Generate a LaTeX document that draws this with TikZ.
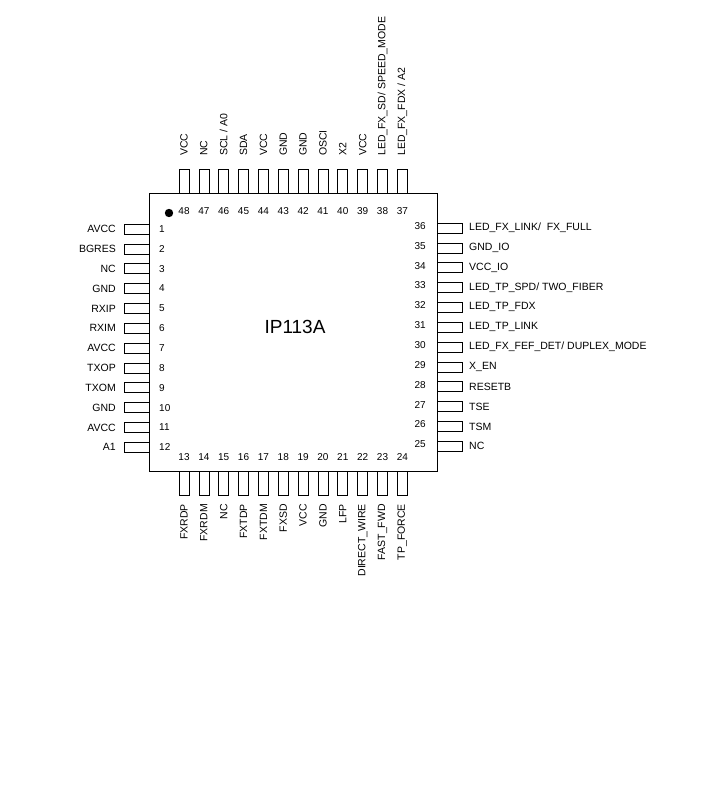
\documentclass[tikz,border=0pt]{standalone}
\usepackage{fontspec}
\setmainfont{Liberation Sans}
\begin{document}
\begin{tikzpicture}[x=1pt,y=-1pt,
  pin/.style={draw=black,line width=0.7pt,fill=white},
  lab/.style={font=\fontsize{10.5}{11}\selectfont,inner sep=0pt},
  num/.style={font=\fontsize{10}{11}\selectfont,inner sep=0pt}]
\useasboundingbox[fill=white] (0,0) rectangle (722,803);
\def\st{19.85}
\node[draw=black,line width=0.8pt,fill=white,minimum width=288pt,minimum height=278pt,anchor=north west,inner sep=0pt] (chip) at (149,193) {};
% top pins
\foreach \n/\t [count=\i from 0] in {48/VCC,47/NC,46/{SCL / A0},45/SDA,44/VCC,43/GND,42/GND,41/OSCI,40/X2,39/VCC,38/{LED\_FX\_SD/ SPEED\_MODE},37/{LED\_FX\_FDX / A2}}{
  \pgfmathsetmacro\xx{184+\i*\st}
  \draw[pin] (\xx-5,169) rectangle (\xx+5,193);
  \node[num] (tn\n) at (\xx,211) {\n};
  \node[lab,rotate=90,anchor=west] (tl\n) at (\xx,156) {\t};
}
% bottom pins
\foreach \n/\t [count=\i from 0] in {13/FXRDP,14/FXRDM,15/NC,16/FXTDP,17/FXTDM,18/FXSD,19/VCC,20/GND,21/LFP,22/DIRECT\_WIRE,23/FAST\_FWD,24/TP\_FORCE}{
  \pgfmathsetmacro\xx{184+\i*\st}
  \draw[pin] (\xx-5,471) rectangle (\xx+5,495);
  \node[num] (bn\n) at (\xx,457) {\n};
  \node[lab,rotate=90,anchor=east] (bl\n) at (\xx,504) {\t};
}
% left pins
\foreach \n/\t [count=\i from 0] in {1/AVCC,2/BGRES,3/NC,4/GND,5/RXIP,6/RXIM,7/AVCC,8/TXOP,9/TXOM,10/GND,11/AVCC,12/A1}{
  \pgfmathsetmacro\yy{229+\i*\st}
  \draw[pin] (124,\yy-5) rectangle (149,\yy+5);
  \node[num,anchor=west] (ln\n) at (159,\yy) {\n};
  \node[lab,anchor=east] (ll\n) at (116,\yy) {\t};
}
% right pins
\foreach \n/\t [count=\i from 0] in {36/{LED\_FX\_LINK/ \ FX\_FULL},35/GND\_IO,34/VCC\_IO,33/{LED\_TP\_SPD/ TWO\_FIBER},32/LED\_TP\_FDX,31/LED\_TP\_LINK,30/{LED\_FX\_FEF\_DET/ DUPLEX\_MODE},29/X\_EN,28/RESETB,27/TSE,26/TSM,25/NC}{
  \pgfmathsetmacro\yy{228+\i*\st}
  \draw[pin] (437,\yy-5) rectangle (462,\yy+5);
  \node[num,anchor=east] (rn\n) at (426,\yy-2) {\n};
  \node[lab,anchor=west] (rl\n) at (469,\yy) {\t};
}
\fill (169,213) circle (4.2);
\node[font=\fontsize{19}{21}\selectfont,inner sep=0pt] (title) at (295,327) {IP113A};
\end{tikzpicture}
\end{document}
